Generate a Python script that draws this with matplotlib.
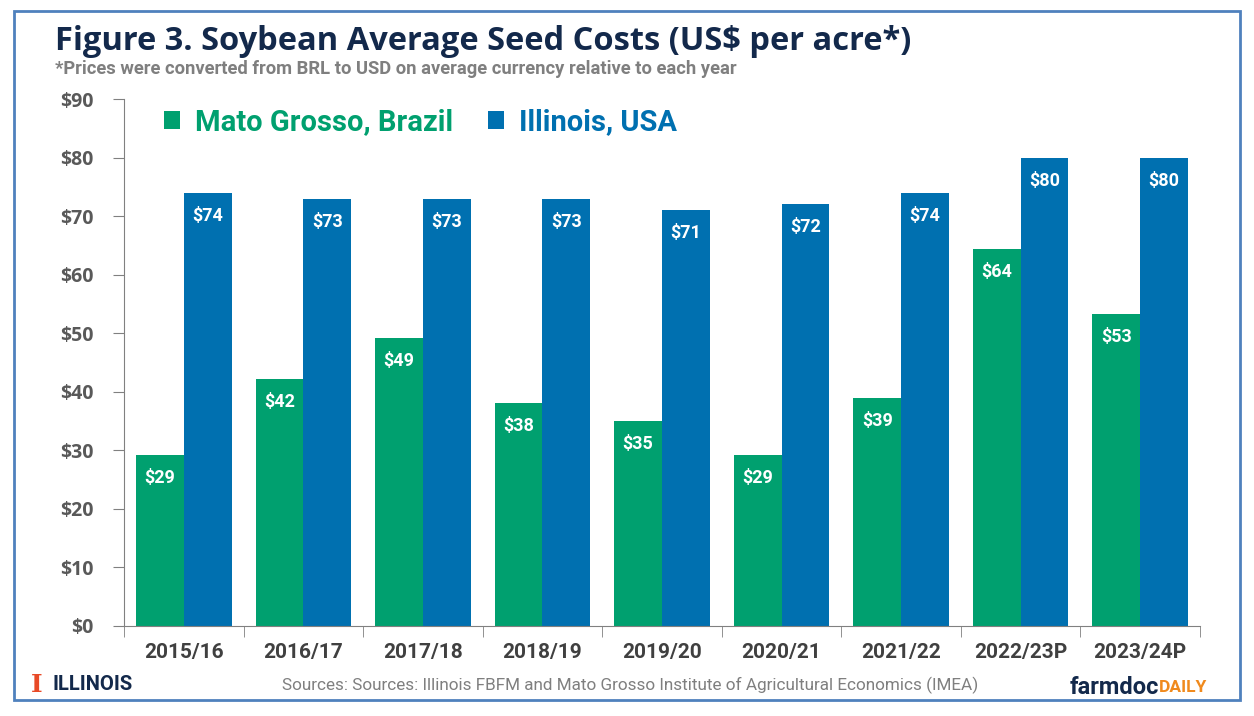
import matplotlib

matplotlib.use('Agg')
import matplotlib.pyplot as plt
from matplotlib.patches import Rectangle

# -- data ----------------------------------------------------------------------
seasons = ['2015/16', '2016/17', '2017/18', '2018/19', '2019/20',
           '2020/21', '2021/22', '2022/23P', '2023/24P']
mato_grosso = [29.2, 42.2, 49.1, 38.0, 35.0, 29.2, 38.9, 64.4, 53.3]
illinois = [74, 73, 73, 73, 71, 72, 74, 80, 80]
mato_labels = ['$29', '$42', '$49', '$38', '$35', '$29', '$39', '$64', '$53']
illinois_labels = ['$74', '$73', '$73', '$73', '$71', '$72', '$74', '$80', '$80']
yticks = [0, 10, 20, 30, 40, 50, 60, 70, 80, 90]

GREEN = '#00A06F'
BLUE = '#0070B0'
NAVY = '#13294B'
ORANGE = '#E84A27'
GRAY = '#595959'

plt.rcParams['font.family'] = ['Open Sans', 'DejaVu Sans']

fig = plt.figure(figsize=(12.54, 7.16), dpi=100)
ax = fig.add_axes([124 / 1254, 1 - 626 / 716, 1076 / 1254, 527 / 716])

x = list(range(len(seasons)))
w = 0.4
b1 = ax.bar([i - w / 2 for i in x], mato_grosso, width=w, color=GREEN,
            label='Mato Grosso, Brazil')
b2 = ax.bar([i + w / 2 for i in x], illinois, width=w, color=BLUE,
            label='Illinois, USA')

for bars, labels in ((b1, mato_labels), (b2, illinois_labels)):
    for rect, lab in zip(bars, labels):
        ax.annotate(lab, (rect.get_x() + rect.get_width() / 2, rect.get_height()),
                    xytext=(0, -23), textcoords='offset pixels',
                    ha='center', va='center', color='white',
                    fontsize=13, fontweight='bold', family='Roboto')

ax.set_xlim(-0.5, len(seasons) - 0.5)
ax.set_ylim(0, 90)
ax.set_yticks(yticks)
ax.set_yticklabels([f'${v}' for v in yticks], fontsize=14, fontweight='bold',
                   color=GRAY)
ax.set_xticks(x)
ax.set_xticklabels(seasons, fontsize=15, fontweight='bold', color='#404040',
                   family='Roboto')
ax.set_xticks([i - 0.5 for i in range(len(seasons) + 1)], minor=True)
ax.tick_params(axis='x', which='major', length=0, pad=12)
ax.tick_params(axis='x', which='minor', length=8, color='#808080')
ax.tick_params(axis='y', length=8, color='#808080', pad=14)

for side in ('top', 'right'):
    ax.spines[side].set_visible(False)
for side in ('left', 'bottom'):
    ax.spines[side].set_color('#808080')

ax.legend(loc='upper left', bbox_to_anchor=(138 / 1254, 1 - 82 / 716),
          bbox_transform=fig.transFigure, ncol=2, frameon=False,
          handlelength=0.55, handleheight=0.55, handletextpad=0.5,
          columnspacing=1.2, labelcolor=[GREEN, BLUE],
          prop={'family': 'Roboto', 'weight': 'bold', 'size': 21})

# -- titles and footer ---------------------------------------------------------
fig.text(55 / 1254, 1 - 42 / 716, 'Figure 3. Soybean Average Seed Costs (US$ per acre*)',
         fontsize=23.5, fontweight='bold', color=NAVY, va='center')
fig.text(55 / 1254, 1 - 69 / 716,
         '*Prices were converted from BRL to USD on average currency relative to each year',
         fontsize=13.2, fontweight='bold', color='#7F7F7F', va='center',
         family='Roboto')

fig.text(31 / 1254, 1 - 685 / 716, 'I', fontsize=18, fontweight='bold',
         color=ORANGE, va='center', family='DejaVu Serif')
fig.text(52 / 1254, 1 - 685 / 716, 'ILLINOIS', fontsize=14.5, fontweight='bold',
         color=NAVY, va='center', family='Roboto')
fig.text(630 / 1254, 1 - 685 / 716,
         'Sources: Sources: Illinois FBFM and Mato Grosso Institute of Agricultural Economics (IMEA)',
         fontsize=12.3, color='#7F7F7F', ha='center', va='center', family='Roboto')
fig.text(1070 / 1254, 1 - 687 / 716, 'farmdoc', fontsize=17, fontweight='bold',
         color=NAVY, va='center', family='Roboto')
fig.text(1159 / 1254, 1 - 687 / 716, 'DAILY', fontsize=12.5, fontweight='bold',
         color='#F08A1D', va='center', family='Roboto')

fig.patches.append(Rectangle((14 / 1254, 1 - 700 / 716), 1226 / 1254, 689 / 716,
                             transform=fig.transFigure, fill=False,
                             edgecolor='#4F81BD', linewidth=2))

fig.savefig('out.png', dpi=100)
